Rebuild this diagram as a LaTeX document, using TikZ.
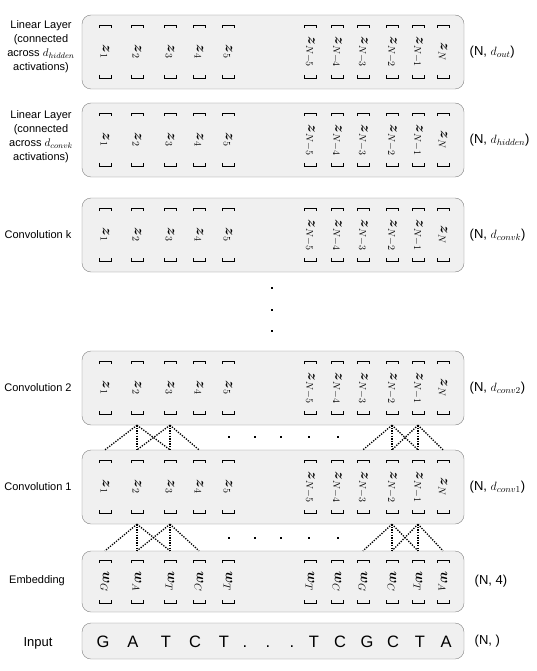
\documentclass[tikz,border=0pt]{standalone}
\usepackage{amsmath}
\usepackage{fontspec}
\setmainfont{Liberation Sans}
\usetikzlibrary{positioning}

\tikzset{
	layer/.style={draw=black!50, fill=black!6, rounded corners=9pt, minimum width=382pt, inner sep=0pt},
	brak/.style={line width=0.8pt},
	vec/.style={rotate=-90, inner sep=0pt, font=\fontsize{14}{14}\selectfont},
	conn/.style={line width=1.3pt, dash pattern=on 1.3pt off 1.3pt},
	lbl/.style={align=center, font=\fontsize{11}{14}\selectfont},
	dims/.style={font=\fontsize{13}{15}\selectfont},
	letter/.style={anchor=base, font=\fontsize{16.5}{16.5}\selectfont},
}

\begin{document}
\begin{tikzpicture}[x=1pt, y=-1pt]
	\useasboundingbox (0,0) rectangle (537,671);

	\node[layer, minimum height=74pt] (lout) at (273,52) {};
	\node[layer, minimum height=74pt] (lhid) at (273,140) {};
	\node[layer, minimum height=74pt] (convk) at (273,235) {};
	\node[layer, minimum height=74pt] (conv2) at (273,388) {};
	\node[layer, minimum height=74pt] (conv1) at (273,487) {};
	\node[layer, minimum height=61pt] (emb) at (273,581.5) {};
	\node[layer, minimum height=36pt] (inp) at (273,641) {};

	\node[lbl] (lout-name) at (41,47) {Linear Layer\\(connected\\across $d_{hidden}$\\activations)};
	\node[lbl] (lhid-name) at (41,137) {Linear Layer\\(connected\\across $d_{convk}$\\activations)};
	\node[lbl] (convk-name) at (38,235) {Convolution k};
	\node[lbl] (conv2-name) at (38,388) {Convolution 2};
	\node[lbl] (conv1-name) at (38,487) {Convolution 1};
	\node[lbl] (emb-name) at (37,581) {Embedding};
	\node[lbl, font=\fontsize{13}{15}\selectfont] (inp-name) at (38,643) {Input};

	\node[dims, right=2pt of lout] (lout-dim) {(N, $d_{out}$)};
	\node[dims, right=2pt of lhid] (lhid-dim) {(N, $d_{hidden}$)};
	\node[dims, right=2pt of convk] (convk-dim) {(N, $d_{convk}$)};
	\node[dims, right=2pt of conv2] (conv2-dim) {(N, $d_{conv2}$)};
	\node[dims, right=2pt of conv1] (conv1-dim) {(N, $d_{conv1}$)};
	\node[dims, right=7pt of emb] (emb-dim) {(N, 4)};
	\node[dims, right=7pt of inp] (inp-dim) {(N, )};

	\foreach \lay/\mid in {lout/52, lhid/140, convk/235, conv2/388, conv1/487}
		\foreach \x/\s [count=\i] in {105/1, 137/2, 170/3, 199/4, 228/5, 310/N-5, 337/N-4, 363/N-3, 392/N-2, 418/N-1, 443/N} {
			\draw[brak] (\x-6,\mid-24) -- (\x-6,\mid-27) -- (\x+6,\mid-27) -- (\x+6,\mid-24);
			\draw[brak] (\x-6,\mid+23) -- (\x-6,\mid+26) -- (\x+6,\mid+26) -- (\x+6,\mid+23);
			\node[vec] (\lay-\i) at (\x,\mid) {$\boldsymbol{z}_{\s}$};
		}

	\foreach \x/\s [count=\i] in {105/G, 137/A, 170/T, 199/C, 228/T, 310/T, 337/C, 363/G, 392/C, 418/T, 443/A} {
		\draw[brak] (\x-6,563) -- (\x-6,560) -- (\x+6,560) -- (\x+6,563);
		\draw[brak] (\x-6,600) -- (\x-6,603) -- (\x+6,603) -- (\x+6,600);
		\node[vec] (emb-\i) at (\x,581.5) {$\boldsymbol{w}_{\s}$};
	}

	\foreach \x/\c [count=\i] in {103/G, 133/A, 166/T, 195/C, 224/T, 245/., 268/., 292/., 314/T, 340/C, 367/G, 393/C, 420/T, 446/A}
		\node[letter] (inp-\i) at (\x,647) {\c};

	\foreach \up/\dn in {conv2/conv1, conv1/emb}
		\foreach \a/\b in {2/1, 2/2, 2/3, 3/2, 3/3, 3/4, 9/8, 9/9, 9/10, 10/9, 10/10, 10/11}
			\draw[conn] (\up.south -| \up-\a) -- (\dn.north -| \dn-\b);

	\foreach \y in {437, 538}
		\foreach \x in {229, 255, 281, 309, 338}
			\fill (\x-1,\y-1) rectangle ++(2,2);
	\foreach \y in {288, 310, 331}
		\fill (271,\y-1) rectangle ++(2,2);
\end{tikzpicture}
\end{document}
